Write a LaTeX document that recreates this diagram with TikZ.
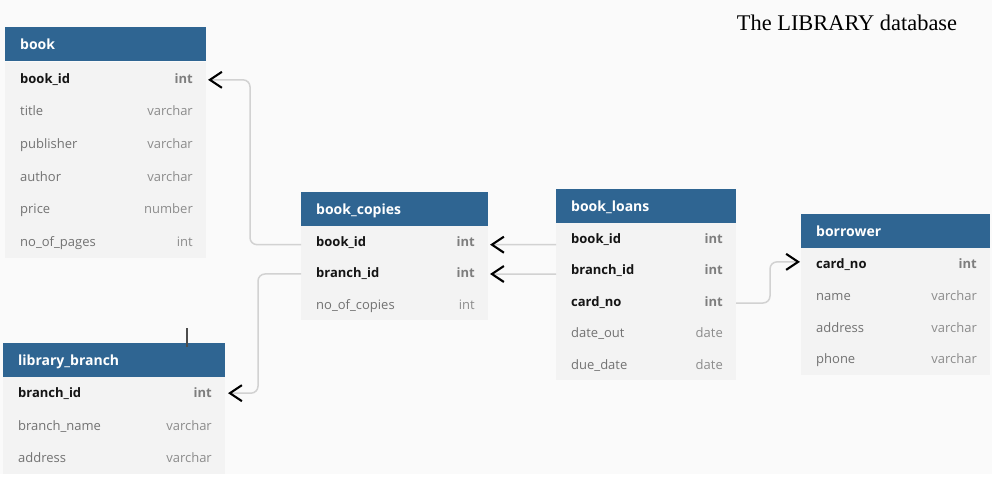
\documentclass[tikz,border=0pt]{standalone}
\usepackage{fontspec}
\usetikzlibrary{arrows.meta}
\newfontfamily\osans{Open Sans}
\newfontfamily\ttlfont{Liberation Serif}
\definecolor{bgc}{HTML}{FAFAFA}
\definecolor{hdrblue}{HTML}{2F6592}
\definecolor{bodyc}{HTML}{F3F3F3}
\definecolor{linegray}{HTML}{D2D2D2}
\definecolor{fieldgray}{HTML}{727272}
\definecolor{typegray}{HTML}{8C8C8C}
\definecolor{keyblack}{HTML}{141414}
\tikzset{
  hdr/.style={rectangle, fill=hdrblue, draw=none, inner sep=0pt, outer sep=0pt, minimum height=34.5pt},
  hdrtxt/.style={inner sep=0pt, text=white, font=\osans\bfseries\fontsize{14}{16}\selectfont},
  rowbox/.style={rectangle, fill=bodyc, draw=none, inner sep=0pt, outer sep=0pt},
  keyfield/.style={inner sep=0pt, text=keyblack, font=\osans\bfseries\fontsize{13}{15}\selectfont},
  keytype/.style={inner sep=0pt, text=typegray!90!black, font=\osans\bfseries\fontsize{13}{15}\selectfont},
  plainfield/.style={inner sep=0pt, text=fieldgray, font=\osans\fontsize{13}{15}\selectfont},
  plaintype/.style={inner sep=0pt, text=typegray, font=\osans\fontsize{13}{15}\selectfont},
  titletxt/.style={inner sep=0pt, text=black, font=\ttlfont\fontsize{22.4}{26}\selectfont},
  conn/.style={draw=linegray, line width=1.5pt, rounded corners=7pt,
    -{Straight Barb[length=12pt,width=16pt,line width=2.1pt,color=black]}},
}
\newcommand\erHead[5]{%
  \node[hdr, minimum width=#4, anchor=north west] (#1) at (#2,#3) {};
  \node[hdrtxt, anchor=base west] (#1-t) at ([xshift=15pt,yshift=-5pt]#1.west) {#5};}
\newcommand\erRow[8]{%
  \node[rowbox, minimum width=#4, minimum height=#5, anchor=north west] (#1) at (#2,#3) {};
  \node[#8field, anchor=base west] (#1-f) at ([xshift=15pt,yshift=-4.7pt]#1.west) {#6};
  \node[#8type, anchor=base east] (#1-y) at ([xshift=-13pt,yshift=-4.7pt]#1.east) {#7};}
\begin{document}
\begin{tikzpicture}[x=1pt,y=-1pt]
\useasboundingbox (0,0) rectangle (1000,486);
\fill[white] (0,0) rectangle (1000,486);
\fill[bgc] (0,0) rectangle (992,474);

\node[titletxt, anchor=base] (title) at (847,31) {The LIBRARY database};

% book
\erHead{bk}{5}{27}{201}{book}
\erRow{bk-bookid}{5}{62}{201}{32.67}{book\_id}{int}{key}
\erRow{bk-title}{5}{94.67}{201}{32.67}{title}{varchar}{plain}
\erRow{bk-pub}{5}{127.33}{201}{32.67}{publisher}{varchar}{plain}
\erRow{bk-author}{5}{160}{201}{32.67}{author}{varchar}{plain}
\erRow{bk-price}{5}{192.67}{201}{32.67}{price}{number}{plain}
\erRow{bk-pages}{5}{225.33}{201}{32.67}{no\_of\_pages}{int}{plain}

% book_copies
\erHead{bc}{301}{192}{187}{book\_copies}
\erRow{bc-bookid}{301}{226}{187}{31.33}{book\_id}{int}{key}
\erRow{bc-branchid}{301}{257.33}{187}{31.33}{branch\_id}{int}{key}
\erRow{bc-copies}{301}{288.67}{187}{31.33}{no\_of\_copies}{int}{plain}

% book_loans
\erHead{bl}{556}{189}{180}{book\_loans}
\erRow{bl-bookid}{556}{223}{180}{31.4}{book\_id}{int}{key}
\erRow{bl-branchid}{556}{254.4}{180}{31.4}{branch\_id}{int}{key}
\erRow{bl-cardno}{556}{285.8}{180}{31.4}{card\_no}{int}{key}
\erRow{bl-out}{556}{317.2}{180}{31.4}{date\_out}{date}{plain}
\erRow{bl-due}{556}{348.6}{180}{31.4}{due\_date}{date}{plain}

% borrower
\erHead{br}{801}{214}{189}{borrower}
\erRow{br-cardno}{801}{248}{189}{31.75}{card\_no}{int}{key}
\erRow{br-name}{801}{279.75}{189}{31.75}{name}{varchar}{plain}
\erRow{br-addr}{801}{311.5}{189}{31.75}{address}{varchar}{plain}
\erRow{br-phone}{801}{343.25}{189}{31.75}{phone}{varchar}{plain}

% library_branch
\erHead{lb}{3}{343}{222}{library\_branch}
\erRow{lb-branchid}{3}{377}{222}{32.33}{branch\_id}{int}{key}
\erRow{lb-name}{3}{409.33}{222}{32.33}{branch\_name}{varchar}{plain}
\erRow{lb-addr}{3}{441.67}{222}{32.33}{address}{varchar}{plain}

% stray tick mark
\draw[draw=black!70, line width=1.2pt] (187,328) -- (187,347);

% connectors
\draw[conn, shorten >=2pt] ([yshift=-3pt]bc-bookid.west) -- ++(-51,0) |- ([yshift=-1.5pt]bk-bookid.east);
\draw[conn, shorten >=2pt] ([yshift=-6pt]bl-bookid.west) -- ([yshift=-3pt]bc-bookid.east);
\draw[conn, shorten >=2pt] ([yshift=-4pt]bl-branchid.west) -- ([yshift=-1pt]bc-branchid.east);
\draw[conn, shorten >=3pt] ([yshift=-1pt]bc-branchid.west) -- ++(-43,0) |- ([yshift=0pt]lb-branchid.east);
\draw[conn, shorten >=1pt] ([yshift=-1.5pt]bl-cardno.east) -- ++(34,0) |- ([yshift=2pt]br-cardno.west);
\end{tikzpicture}
\end{document}
